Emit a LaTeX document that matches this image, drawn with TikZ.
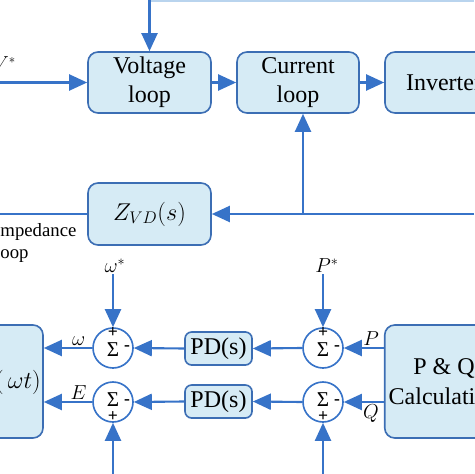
\documentclass[tikz,border=0pt]{standalone}
\usepackage{fontspec}
\setmainfont{Liberation Serif}
\usetikzlibrary{arrows.meta}
\definecolor{boxfill}{RGB}{214,235,245}
\definecolor{boxline}{RGB}{60,110,180}
\definecolor{wire}{RGB}{55,115,200}
\definecolor{topband}{RGB}{185,212,238}
\begin{document}
\begin{tikzpicture}[x=0.3mm,y=-0.3mm,
    blk/.style={draw=boxline,fill=boxfill,line width=1.4pt,rounded corners=3mm,align=center,font=\fontsize{20.5}{25}\selectfont},
    sumc/.style={draw=wire,fill=white,line width=1.4pt,circle,minimum size=12mm,inner sep=0pt},
    sig/.style={font=\fontsize{17}{17}\selectfont,inner sep=1pt},
    sgm/.style={font=\fontsize{18}{18}\selectfont,inner sep=0pt},
    pm/.style={font=\bfseries\fontsize{15}{15}\selectfont,inner sep=0pt},
    arr/.style={draw=wire,line width=1.8pt,-{Triangle[length=5.4mm,width=4.8mm]}},
    wire/.style={draw=wire,line width=1.8pt}]
        \useasboundingbox (0,0) rectangle (474,474);
        % upper part: voltage and current loops
        \draw[topband,line width=2pt] (149,1)--(474,1);
        \node[blk,minimum width=36.9mm,minimum height=18.3mm] (vl) at (149.5,82.5) {Voltage\\loop};
        \node[blk,minimum width=36.6mm,minimum height=18.3mm] (cl) at (298,82.5) {Current\\loop};
        \node[blk,minimum width=35.4mm,minimum height=18.3mm] (inv) at (444,82.5) {Inverter};
        \node[blk,minimum width=36.9mm,minimum height=18.6mm,font=\fontsize{22}{22}\selectfont] (zvd) at (149.5,214) {$Z_{VD}(s)$};
        \node[anchor=east,inner sep=0pt,font=\fontsize{16}{16}\selectfont] (vref) at (16,64) {$V^*$};
        \node[anchor=north west,inner sep=0pt,align=left,font=\fontsize{16}{19}\selectfont] (imp) at (-5,223) {impedance\\loop};
        \coordinate (fbtop) at (149.5,0);
        \coordinate (vin) at (0,82.5);
        \coordinate (fbr) at (474,214);
        \coordinate (fbj) at (303,214);
        \coordinate (zout) at (0,214);
        \draw[arr] (fbtop)--(vl.north);
        \draw[arr] (vin)--(vl.west);
        \draw[arr] (vl.east)--(cl.west);
        \draw[arr] (cl.east)--(inv.west);
        \draw[arr] (fbr)--(zvd.east);
        \draw[arr] (fbj)--(fbj |- cl.south);
        \draw[wire] (zvd.west)--(zout);
        % lower part: power loops
        \node[blk,minimum width=36.9mm,minimum height=33.9mm] (lb) at (-18.5,381.5) {};
        \node[anchor=east,inner sep=0pt,font=\fontsize{20}{20}\selectfont] (lbt) at (41,382) {$E\sin(\,\omega t)$};
        \node[blk,minimum width=35.4mm,minimum height=33.9mm] (pq) at (444,381.5) {P \& Q\\Calculation};
        \node[blk,rounded corners=2mm,minimum width=20.1mm,minimum height=9.9mm,inner sep=0pt] (pd1) at (218.5,348.5) {PD(s)};
        \node[blk,rounded corners=2mm,minimum width=20.1mm,minimum height=9.9mm,inner sep=0pt] (pd2) at (218.5,401.5) {PD(s)};
        \node[sumc] (s1) at (113,348) {};
        \node[sumc] (s2) at (113,402) {};
        \node[sumc] (s3) at (323,348) {};
        \node[sumc] (s4) at (323,402) {};
        \node[sgm] at ([yshift=-0.6mm]s1.center) {Σ};
        \node[sgm] at ([yshift=0.8mm]s2.center) {Σ};
        \node[sgm] at ([yshift=-0.6mm]s3.center) {Σ};
        \node[sgm] at ([yshift=0.8mm]s4.center) {Σ};
        \node[pm] at ([yshift=4.6mm]s1.center) {+};
        \node[pm] at ([xshift=4.2mm]s1.center) {-};
        \node[pm] at ([yshift=-4.5mm]s2.center) {+};
        \node[pm] at ([xshift=4.2mm]s2.center) {-};
        \node[pm] at ([yshift=4.6mm]s3.center) {+};
        \node[pm] at ([xshift=4.2mm]s3.center) {-};
        \node[pm] at ([yshift=-4.5mm]s4.center) {+};
        \node[pm] at ([xshift=4.2mm]s4.center) {-};
        \node[font=\fontsize{18}{18}\selectfont,inner sep=1pt] (wref) at (115,266) {$\omega^*$};
        \node[font=\fontsize{18}{18}\selectfont,inner sep=1pt] (pref) at (327,266) {$P^*$};
        \coordinate (ein) at (113,474);
        \coordinate (qin) at (323,474);
        \draw[arr] (wref.south -| s1)--(s1.north);
        \draw[arr] (pref.south -| s3)--(s3.north);
        \draw[arr] (ein)--(s2.south);
        \draw[arr] (qin)--(s4.south);
        \draw[arr] (s1.west)--(s1 -| lb.east) node[pos=0.28,above,sig]{$\omega$};
        \draw[arr] (s2.west)--(s2 -| lb.east) node[pos=0.28,above,sig]{$E$};
        \draw[arr] (pd1.west)--(s1.east);
        \draw[arr] (pd2.west)--(s2.east);
        \draw[arr] (s3.west)--(pd1.east);
        \draw[arr] (s4.west)--(pd2.east);
        \draw[arr] (s3 -| pq.west)--(s3.east) node[pos=0.32,above,sig]{$P$};
        \draw[arr] (s4 -| pq.west)--(s4.east) node[pos=0.32,below,sig]{$Q$};
\end{tikzpicture}
\end{document}
